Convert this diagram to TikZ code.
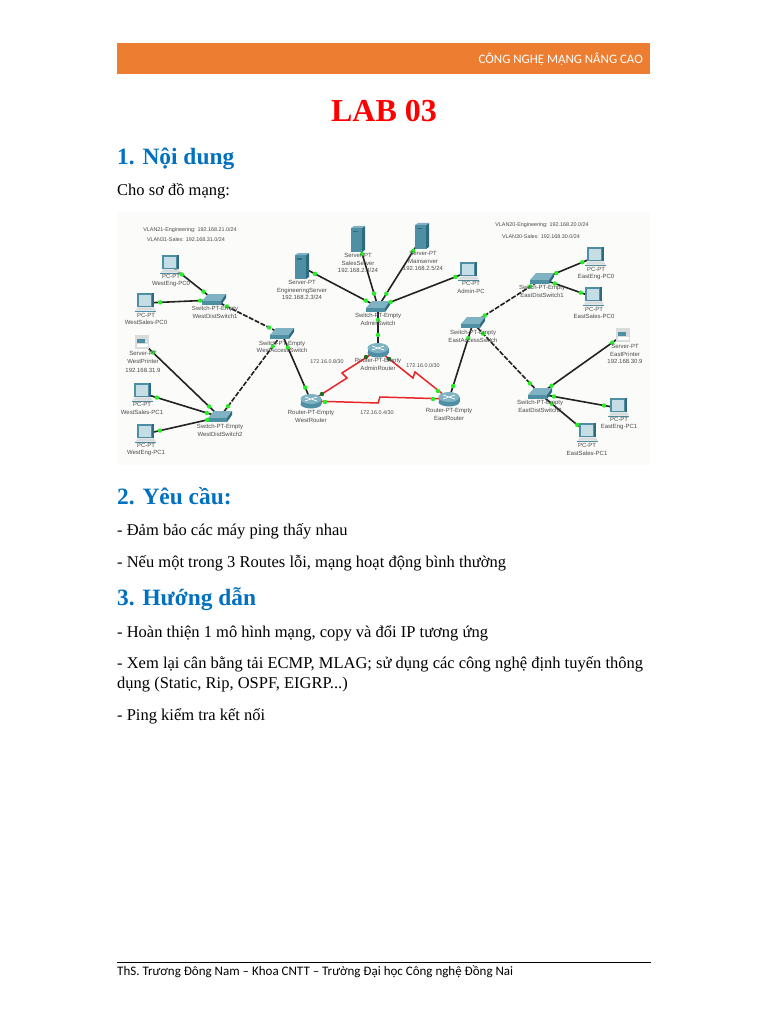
\documentclass[tikz,border=0pt]{standalone}
\usepackage{fontspec}
\setmainfont{Liberation Serif}
\newfontfamily\labfont{Liberation Sans}
\newfontfamily\calfont{Carlito}
\definecolor{hdrorange}{HTML}{ED7D31}
\definecolor{headblue}{HTML}{0070C0}
\definecolor{labred}{HTML}{FF0000}
\definecolor{imgbg}{HTML}{FBFBFA}
\definecolor{tealA}{HTML}{7FB2C2}
\definecolor{tealB}{HTML}{4F8FA3}
\definecolor{tealC}{HTML}{2F6B80}
\definecolor{screenc}{HTML}{C5DDE5}
\definecolor{greydev}{HTML}{D8DCDC}
\definecolor{dotgreen}{HTML}{22EE22}
\definecolor{dotdark}{HTML}{1F6F1F}
\definecolor{linkc}{HTML}{222222}
\definecolor{redlink}{HTML}{E8262A}
\definecolor{labc}{HTML}{4A4A4A}
\tikzset{
 devnode/.style={inner sep=0pt,outer sep=0pt,minimum size=0pt},
 lab/.style={font=\labfont\fontsize{6}{7.4}\selectfont,text=labc,align=center,inner sep=0pt},
 note/.style={font=\labfont\fontsize{5.4}{6.5}\selectfont,text=labc,inner sep=0pt},
 solidlink/.style={draw=linkc,line width=1.6pt},
 dashlink/.style={draw=linkc,line width=1.6pt,dash pattern=on 5pt off 1.5pt},
 redline/.style={draw=redlink,line width=1.5pt,line join=miter},
 gdot/.style={circle,fill=dotgreen,inner sep=0pt,minimum size=4.4pt},
 ddot/.style={circle,fill=dotdark,inner sep=0pt,minimum size=4.4pt},
 body/.style={anchor=base west,inner sep=0pt,font=\fontsize{16.5}{19}\selectfont},
 heading/.style={anchor=base west,inner sep=0pt,text=headblue,font=\fontsize{23.4}{28}\selectfont\bfseries},
}
\newcommand{\swicon}[1]{\begin{scope}[shift={(#1)}]
 \fill[tealA] (-12,1)--(-6,-6)--(12,-6)--(7,1)--cycle;
 \fill[tealB] (-12,1)--(7,1)--(7,5)--(-12,5)--cycle;
 \fill[tealC] (7,1)--(12,-6)--(12,-2)--(7,5)--cycle;
\end{scope}}
\newcommand{\pcicon}[1]{\begin{scope}[shift={(#1)},scale=1.1]
 \fill[tealB] (-7,-9) rectangle (8,4);
 \fill[screenc] (-5.5,-7.5) rectangle (5.5,2.5);
 \fill[tealC] (6,-9) rectangle (8,4);
 \fill[greydev] (-9,7)--(-6,4)--(8,4)--(10,7)--cycle;
 \fill[tealB] (-9,7) rectangle (10,8);
\end{scope}}
\newcommand{\srvicon}[1]{\begin{scope}[shift={(#1)}]
 \fill[tealB] (-7,-12) rectangle (4,12);
 \fill[tealC] (4,-12)--(7,-14)--(7,10)--(4,12)--cycle;
 \fill[tealA] (-7,-12)--(-4,-14)--(7,-14)--(4,-12)--cycle;
 \fill[tealC] (-5,-9) rectangle (0,-7.5);
\end{scope}}
\newcommand{\prnicon}[1]{\begin{scope}[shift={(#1)}]
 \fill[greydev] (-7,-7) rectangle (7,7);
 \fill[white] (-5,2) rectangle (6,5);
 \fill[tealB] (-5,-3) rectangle (3,1);
\end{scope}}
\newcommand{\rticon}[1]{\begin{scope}[shift={(#1)}]
 \fill[tealB] (-10.5,-2) rectangle (10.5,3);
 \fill[tealB] (0,3) ellipse[x radius=10.5,y radius=4.5];
 \fill[tealA] (0,-2) ellipse[x radius=10.5,y radius=5];
 \draw[white,line width=.7pt] (-6,-4)--(6,0) (-6,0)--(6,-4);
\end{scope}}
\begin{document}
\begin{tikzpicture}[x=1pt,y=-1pt]
\useasboundingbox (0,0) rectangle (768,1024);
\fill[white] (0,0) rectangle (768,1024);
% header
\node[fill=hdrorange,minimum width=533pt,minimum height=31pt,inner sep=0pt,anchor=north west] (hdr) at (117,43) {};
\node[anchor=east,inner sep=0pt,text=white,font=\calfont\fontsize{12.9}{15}\selectfont] (hdrtxt) at (643,59.5) {CÔNG NGHỆ MẠNG NÂNG CAO};
\node[anchor=base,inner sep=0pt,text=labred,font=\fontsize{32}{36}\selectfont\bfseries] (title) at (384,122) {LAB 03};
\node[heading] (h1) at (117,165) {1. Nội dung};
\node[body] (t1) at (117,196) {Cho sơ đồ mạng:};
\node[heading] (h2) at (117,504) {2. Yêu cầu:};
\node[body] (t2) at (117,535) {- Đảm bảo các máy ping thấy nhau};
\node[body] (t3) at (117,567) {- Nếu một trong 3 Routes lỗi, mạng hoạt động bình thường};
\node[heading] (h3) at (117,605) {3. Hướng dẫn};
\node[body] (t4) at (117,637) {- Hoàn thiện 1 mô hình mạng, copy và đổi IP tương ứng};
\node[body] (t5) at (117,668) {- Xem lại cân bằng tải ECMP, MLAG; sử dụng các công nghệ định tuyến thông};
\node[body] (t6) at (117,688) {dụng (Static, Rip, OSPF, EIGRP...)};
\node[body] (t7) at (117,720) {- Ping kiểm tra kết nối};
% footer
\coordinate (fl) at (117,962);
\coordinate (fr) at (651,962);
\draw[black,line width=.8pt] (fl)--(fr);
\node[anchor=base west,inner sep=0pt,font=\calfont\fontsize{13}{15}\selectfont] (foot) at (117,975) {ThS. Trương Đông Nam – Khoa CNTT – Trường Đại học Công nghệ Đồng Nai};
% diagram background
\fill[imgbg] (117,212) rectangle (650,465);
% device nodes
\node[devnode] (wpc0) at (170,265) {};
\node[devnode] (wd1) at (214,300) {};
\node[devnode] (wspc0) at (145,303) {};
\node[devnode] (wacc) at (282,334) {};
\node[devnode] (wprn) at (142,342) {};
\node[devnode] (wspc1) at (142,393) {};
\node[devnode] (wepc1) at (145,434) {};
\node[devnode] (wd2) at (220,417) {};
\node[devnode] (wrt) at (311,401) {};
\node[devnode] (art) at (378,350) {};
\node[devnode] (asw) at (378,307) {};
\node[devnode] (esrv) at (302,267) {};
\node[devnode] (ssrv) at (358,240) {};
\node[devnode] (msrv) at (422,237) {};
\node[devnode] (apc) at (468,272) {};
\node[devnode] (eacc) at (473,323) {};
\node[devnode] (ed1) at (542,279) {};
\node[devnode] (eepc0) at (595,257) {};
\node[devnode] (espc0) at (593,297) {};
\node[devnode] (eprn) at (623,335) {};
\node[devnode] (ed2) at (540,394) {};
\node[devnode] (ert) at (449,399) {};
\node[devnode] (eepc1) at (618,408) {};
\node[devnode] (espc1) at (587,433) {};
% bend coordinates of the serial links
\coordinate (ba) at (347,378); \coordinate (bb) at (342,373);
\coordinate (bc) at (378,403); \coordinate (bd) at (380,397);
\coordinate (be) at (413,378); \coordinate (bf) at (415,372);
% links
\foreach \a/\b in {wpc0/wd1,wspc0/wd1,wprn/wd2,wspc1/wd2,wepc1/wd2,wacc/wrt,asw/art,esrv/asw,ssrv/asw,msrv/asw,apc/asw,eacc/ert,ed1/eepc0,ed1/espc0,ed2/eprn,ed2/eepc1,ed2/espc1}
  \draw[solidlink] (\a)--(\b);
\foreach \a/\b in {wd1/wacc,wd2/wacc,eacc/ed1,eacc/ed2}
  \draw[dashlink] (\a)--(\b);
\draw[redline] (wrt)--(ba)--(bb)--(art);
\draw[redline] (wrt)--(bc)--(bd)--(ert);
\draw[redline] (art)--(be)--(bf)--(ert);
% icons
\pcicon{wpc0}\pcicon{wspc0}\pcicon{wspc1}\pcicon{wepc1}\pcicon{apc}
\pcicon{eepc0}\pcicon{espc0}\pcicon{eepc1}\pcicon{espc1}
\swicon{wd1}\swicon{wacc}\swicon{wd2}\swicon{asw}\swicon{eacc}\swicon{ed1}\swicon{ed2}
\srvicon{esrv}\srvicon{ssrv}\srvicon{msrv}
\prnicon{wprn}\prnicon{eprn}
\rticon{wrt}\rticon{art}\rticon{ert}
% link lights
\foreach \a/\b/\p/\q in {wpc0/wd1/.27/.76,wspc0/wd1/.22/.8,wd1/wacc/.19/.81,wprn/wd2/.14/.86,wspc1/wd2/.19/.83,wepc1/wd2/.2/.83,wd2/wacc/.13/.85,wacc/wrt/.2/.8,asw/art/.3/.65,esrv/asw/.17/.84,ssrv/asw/.21/.8,msrv/asw/.2/.81,apc/asw/.14/.86,eacc/ert/.2/.83,eacc/ed1/.17/.83,eacc/ed2/.15/.85,ed1/eepc0/.27/.76,ed1/espc0/.25/.76,ed2/eprn/.14/.87,ed2/eepc1/.18/.82,ed2/espc1/.25/.79}
  \path (\a)--(\b) node[gdot,pos=\p]{} node[gdot,pos=\q]{};
\node[ddot] (d1) at (322,394) {};
\node[ddot] (d2) at (366,357) {};
\node[gdot] (d3) at (325,402) {};
\node[gdot] (d4) at (433,399) {};
\node[ddot] (d5) at (389,359) {};
\node[gdot] (d6) at (438,391) {};
% labels
\node[note] (n1) at (190,230) {VLAN21-Engineering: 192.168.21.0/24};
\node[note] (n2) at (186,240) {VLAN31-Sales: 192.168.31.0/24};
\node[note] (n3) at (542,225) {VLAN20-Engineering: 192.168.20.0/24};
\node[note] (n4) at (541,237) {VLAN30-Sales: 192.168.30.0/24};
\node[note] (n5) at (327,362) {172.16.0.8/30};
\node[note] (n6) at (423,366) {172.16.0.0/30};
\node[note] (n7) at (377,413) {172.16.0.4/30};
\node[lab] (l1) at (171,280.5) {PC-PT\\WestEng-PC0};
\node[lab] (l2) at (146,319) {PC-PT\\WestSales-PC0};
\node[lab] (l3) at (215,312.5) {Switch-PT-Empty\\WestDistSwitch1};
\node[lab] (l4) at (282,347) {Switch-PT-Empty\\WestAccessSwitch};
\node[lab] (l5) at (143,362) {Server-PT\\WestPrinter\\[1.5pt]192.168.31.9};
\node[lab] (l6) at (142,408.5) {PC-PT\\WestSales-PC1};
\node[lab] (l7) at (146,449.5) {PC-PT\\WestEng-PC1};
\node[lab] (l8) at (220,430.5) {Switch-PT-Empty\\WestDistSwitch2};
\node[lab] (l9) at (311,416.5) {Router-PT-Empty\\WestRouter};
\node[lab] (l10) at (378,364.5) {Router-PT-Empty\\AdminRouter};
\node[lab] (l11) at (378,319.5) {Switch-PT-Empty\\AdminSwitch};
\node[lab] (l12) at (302,290) {Server-PT\\EngineeringServer\\192.168.2.3/24};
\node[lab] (l13) at (358,263) {Server-PT\\SalesServer\\192.168.2.4/24};
\node[lab] (l14) at (423,261) {Server-PT\\Mainserver\\192.168.2.5/24};
\node[lab] (l15) at (471,287.5) {PC-PT\\Admin-PC};
\node[lab] (l16) at (473,336.5) {Switch-PT-Empty\\EastAccessSwitch};
\node[lab] (l17) at (542,291.5) {Switch-PT-Empty\\EastDistSwitch1};
\node[lab] (l18) at (596,273.5) {PC-PT\\EastEng-PC0};
\node[lab] (l19) at (594,313) {PC-PT\\EastSales-PC0};
\node[lab] (l20) at (625,354) {Server-PT\\EastPrinter\\192.168.30.9};
\node[lab] (l21) at (540,406.5) {Switch-PT-Empty\\EastDistSwitch2};
\node[lab] (l22) at (449,414.5) {Router-PT-Empty\\EastRouter};
\node[lab] (l23) at (619,423.5) {PC-PT\\EastEng-PC1};
\node[lab] (l24) at (587,449.5) {PC-PT\\EastSales-PC1};
\end{tikzpicture}
\end{document}
